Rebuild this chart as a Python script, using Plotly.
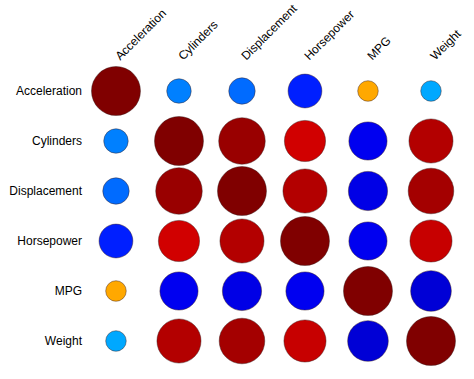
import plotly.graph_objects as go

variables = ["Acceleration", "Cylinders", "Displacement", "Horsepower", "MPG", "Weight"]

corr_acceleration = [1.00, -0.50, -0.54, -0.69, 0.42, -0.42]
corr_cylinders = [-0.50, 1.00, 0.95, 0.84, -0.78, 0.90]
corr_displacement = [-0.54, 0.95, 1.00, 0.90, -0.80, 0.93]
corr_horsepower = [-0.69, 0.84, 0.90, 1.00, -0.78, 0.86]
corr_mpg = [0.42, -0.78, -0.80, -0.78, 1.00, -0.83]
corr_weight = [-0.42, 0.90, 0.93, 0.86, -0.83, 1.00]

rows = [corr_acceleration, corr_cylinders, corr_displacement,
        corr_horsepower, corr_mpg, corr_weight]

jet = [
    [0.0, "rgb(0,0,128)"],
    [0.125, "rgb(0,0,255)"],
    [0.375, "rgb(0,255,255)"],
    [0.625, "rgb(255,255,0)"],
    [0.875, "rgb(255,0,0)"],
    [1.0, "rgb(128,0,0)"],
]

xs, ys, vals = [], [], []
for r, row in enumerate(rows):
    for c, v in enumerate(row):
        xs.append(variables[c])
        ys.append(variables[r])
        vals.append(v)

fig = go.Figure(go.Scatter(
    x=xs, y=ys, mode="markers",
    marker=dict(
        size=[abs(v) for v in vals],
        sizemode="diameter",
        sizeref=1 / 49,
        color=vals,
        cmin=-1, cmax=1,
        colorscale=jet,
        line=dict(color="rgba(60,30,30,0.45)", width=1),
        opacity=1,
    ),
    hoverinfo="x+y+text",
    text=[f"{v:.2f}" for v in vals],
    showlegend=False,
))

fig.update_layout(
    width=474, height=379,
    margin=dict(l=88, r=10, t=66, b=13),
    paper_bgcolor="white", plot_bgcolor="white",
    font=dict(family="Liberation Sans, Arial, sans-serif", size=12, color="black"),
    xaxis=dict(
        side="top", tickangle=-45, showgrid=False, zeroline=False,
        showline=False, ticks="", automargin=False,
        categoryorder="array", categoryarray=variables,
        range=[-0.444, 5.524],
    ),
    yaxis=dict(
        showgrid=False, zeroline=False, showline=False, ticks="",
        automargin=False, ticklabelstandoff=5,
        categoryorder="array", categoryarray=variables,
        range=[5.5, -0.5],
    ),
)

fig.write_html("out.html")
